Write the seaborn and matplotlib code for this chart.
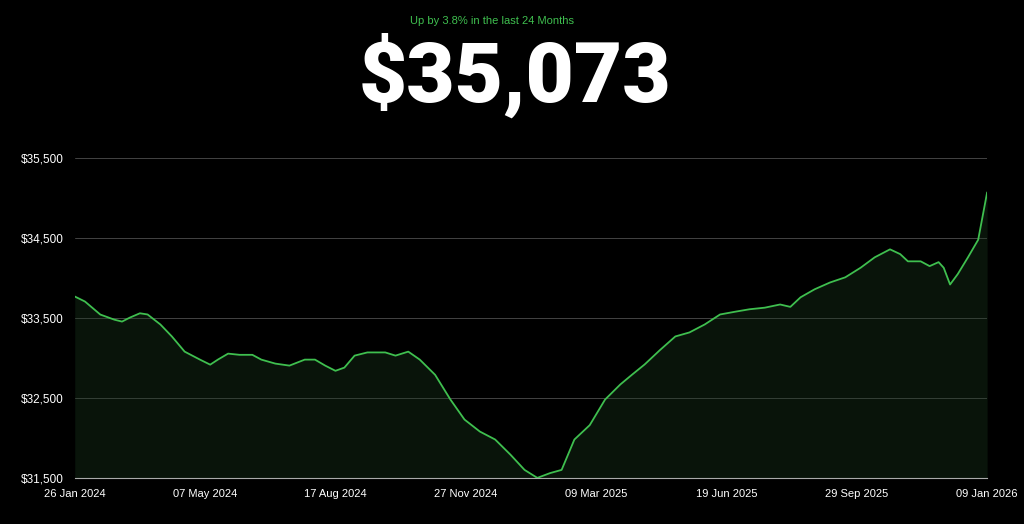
import matplotlib
matplotlib.use("Agg")
import matplotlib.pyplot as plt
import seaborn as sns
import pandas as pd
import numpy as np

px = [75,85,100,115,122,130,140,148,160,172,185,200,210,218,228,240,252,262,275,290,305,315,325,335,345,355,368,385,395,408,420,435,450,465,480,495,510,525,538,550,562,575,590,605,620,632,645,660,675,690,705,720,735,750,765,780,790,800,815,830,845,860,875,890,900,908,920,930,938,943,950,958,968,978,987]
day_offsets = [round((p-75)*714/912) for p in px]
values = [33770,33707,33544,33480,33456,33505,33560,33545,33420,33270,33080,32980,32917,32980,33055,33040,33040,32980,32930,32905,32980,32980,32905,32840,32880,33030,33070,33070,33030,33080,32980,32790,32480,32230,32080,31980,31790,31600,31500,31560,31600,31980,32160,32480,32670,32790,32920,33100,33270,33320,33420,33545,33580,33610,33630,33670,33640,33760,33860,33945,34010,34130,34260,34360,34300,34210,34210,34150,34200,34130,33920,34050,34260,34480,35073]
tick_days = [0,102,204,306,408,510,612,714]
tick_labels = ["26 Jan 2024","07 May 2024","17 Aug 2024","27 Nov 2024","09 Mar 2025","19 Jun 2025","29 Sep 2025","09 Jan 2026"]
y_ticks = [31500,32500,33500,34500,35500]
y_labels = ["$31,500","$32,500","$33,500","$34,500","$35,500"]

df = pd.DataFrame({"day": day_offsets, "value": values})
sns.set_style("dark")
fig = plt.figure(figsize=(10.24,5.24), dpi=100, facecolor="black")
ax = fig.add_axes([0.073, 0.088, 0.891, 0.61], facecolor="black")
green = "#3fbf4f"
sns.lineplot(data=df, x="day", y="value", ax=ax, color=green, lw=1.3)
ax.fill_between(df["day"], df["value"], 31500, color="#1a3a1f", alpha=0.35, lw=0)
ax.set_xlim(0,714); ax.set_ylim(31500,35500)
ax.set_xticks(tick_days); ax.set_xticklabels(tick_labels, color="white", fontsize=8, family="Liberation Sans")
ax.set_yticks(y_ticks); ax.set_yticklabels(y_labels, color="white", fontsize=8.5, family="Liberation Sans")
ax.tick_params(length=0, pad=8)
ax.set_xlabel(""); ax.set_ylabel("")
ax.grid(axis="y", color="#444444", lw=0.7); ax.grid(axis="x", visible=False)
for s in ["top","right","left"]:
    ax.spines[s].set_visible(False)
ax.spines["bottom"].set_color("#aaaaaa")
fig.text(0.48, 0.955, "Up by 3.8% in the last 24 Months", color=green, ha="center", fontsize=8, family="Liberation Sans")
fig.text(0.503, 0.855, "$35,073", color="white", ha="center", va="center", fontsize=60, fontweight="black", family="Roboto")
fig.savefig("out.png", dpi=100, facecolor="black")
